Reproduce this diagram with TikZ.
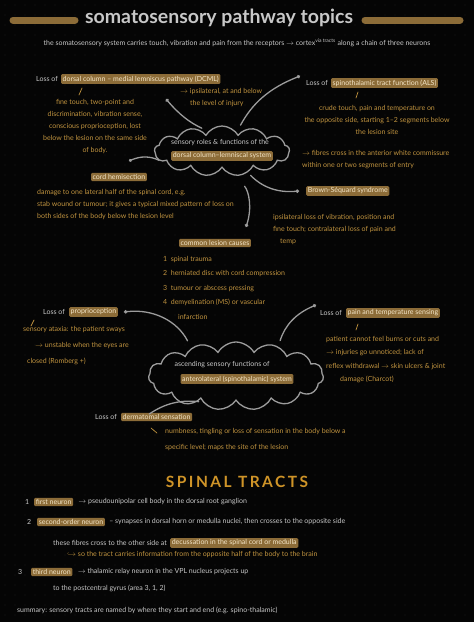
\documentclass[tikz,border=0pt]{standalone}
\usepackage{fontspec}
\setmainfont{Lato}
\usetikzlibrary{shapes.symbols,arrows.meta}
\definecolor{board}{HTML}{050505}
\definecolor{dotgrey}{HTML}{1E1E1E}
\definecolor{chalk}{HTML}{C8C8C8}
\definecolor{linkgrey}{HTML}{9C9C9C}
\definecolor{gold}{HTML}{C0933F}
\definecolor{hlgold}{HTML}{8C6C38}
\definecolor{hltext}{HTML}{F2E4C6}
\definecolor{headgold}{HTML}{CF9428}

\begin{document}
\begin{tikzpicture}[x=1pt,y=-1pt,
  goldtxt/.style={text=gold, font=\fontsize{7}{12}\selectfont, inner sep=0pt},
  chalktxt/.style={text=chalk, font=\fontsize{7}{12}\selectfont, inner sep=0pt},
  hl/.style={fill=hlgold, text=hltext, font=\fontsize{7}{8}\selectfont, inner sep=1.6pt, rounded corners=1.2pt},
  link/.style={draw=linkgrey, line width=1.3pt, line cap=round},
  tick/.style={draw=gold, line width=0.7pt, line cap=round},
  thought/.style={cloud, cloud puffs=13, cloud puff arc=120, cloud ignores aspect, draw=linkgrey, line width=1.3pt}]

\fill[board] (0,0) rectangle (474,622);
\useasboundingbox (0,0) rectangle (474,622);
\foreach \i in {5,15,...,475}
  \foreach \j in {5,15,...,620}
    \fill[dotgrey] (\i,\j) circle (0.55);

% title
\draw[hlgold, line width=7pt, line cap=round] (13,20) -- (75,20);
\draw[hlgold, line width=7pt, line cap=round] (365,20) -- (460,20);
\node[text=chalk, font=\fontsize{19.5}{19.5}\selectfont\bfseries] (title) at (219,18) {somatosensory pathway topics};
\node[chalktxt, font=\fontsize{7}{8}\selectfont] (sub) at (237,43) {the somatosensory system carries touch, vibration and pain from the receptors $\rightarrow$ cortex\textsuperscript{via tracts} along a chain of three neurons};

% upper left
\node[chalktxt, anchor=west] (lossA) at (36,79) {Loss of};
\node[hl, anchor=west] (hlA) at ([xshift=3pt]lossA.east) {dorsal column -- medial lemniscus pathway (DCML)};
\node[goldtxt, align=center] (txtA) at (95,127) {fine touch, two-point and\\discrimination, vibration sense,\\conscious proprioception, lost\\below the lesion on the same side\\of body.};
\draw[tick] (82,88) -- (79,95);

\node[goldtxt, anchor=west, align=left] (txtB) at (180,98) {$\rightarrow$ ipsilateral, at and below\\\hspace{10pt}the level of injury};

% first cloud
\node[thought, minimum width=135pt, minimum height=50pt] (cloudA) at (222,151) {};
\node[chalktxt] (cloudAtop) at (220,143) {sensory roles \& functions of the};
\node[hl] (cloudAhl) at (222,156) {dorsal column--lemniscal system};

% upper right
\node[chalktxt, anchor=west] (lossC) at (306,83) {Loss of};
\node[hl, anchor=west] (hlC) at ([xshift=3pt]lossC.east) {spinothalamic tract function (ALS)};
\draw[tick] (358,92) -- (356,98);
\node[goldtxt, align=center] (txtC) at (377,120) {crude touch, pain and temperature on\\the opposite side, starting 1--2 segments below\\the lesion site};
\node[goldtxt, anchor=north west, align=left] (txtC2) at (302,150) {$\rightarrow$ fibres cross in the anterior white commissure\\within one or two segments of entry};

% middle left
\node[hl] (hlD) at (119,177) {cord hemisection};
\node[goldtxt, anchor=north west, align=left] (txtD) at (37,189) {damage to one lateral half of the spinal cord, e.g.\\stab wound or tumour; it gives a typical mixed pattern of loss on\\both sides of the body below the lesion level};

% middle right
\node[hl, anchor=west] (hlE) at (306,191) {Brown-Séquard syndrome};
\node[goldtxt, anchor=north west, align=left] (txtE) at (273,214) {ipsilateral loss of vibration, position and\\fine touch; contralateral loss of pain and\\\hspace{7pt}temp};

% list
\node[hl] (hlF) at (215,243) {common lesion causes};
\node[goldtxt, anchor=north west, align=left, font=\fontsize{7}{14.5}\selectfont] (listF) at (163,256) {1\ \ spinal trauma\\2\ \ herniated disc with cord compression\\3\ \ tumour or abscess pressing\\4\ \ demyelination (MS) or vascular\\\hspace{15pt}infarction};

% left middle
\node[chalktxt, anchor=west] (lossG) at (43,312) {Loss of};
\node[hl, anchor=west] (hlG) at ([xshift=4pt]lossG.east) {proprioception};
\draw[tick] (34,320) -- (31,326);
\node[goldtxt, anchor=north west, align=left, font=\fontsize{7}{16}\selectfont] (txtG) at (23,326) {sensory ataxia: the patient sways\\\hspace{12pt}$\rightarrow$ unstable when the eyes are\\\hspace{4pt}closed (Romberg +)};

% right middle
\node[chalktxt, anchor=west] (lossH) at (320,313) {Loss of};
\node[hl, anchor=west] (hlH) at ([xshift=4pt]lossH.east) {pain and temperature sensing};
\draw[tick] (358,324) -- (356,330);
\node[goldtxt, anchor=north west, align=left, font=\fontsize{7}{13.5}\selectfont] (txtH) at (326,336) {patient cannot feel burns or cuts and\\$\rightarrow$ injuries go unnoticed; lack of\\reflex withdrawal $\rightarrow$ skin ulcers \& joint\\\hspace{14pt}damage (Charcot)};

% second cloud
\node[thought, cloud puffs=15, minimum width=175pt, minimum height=68pt] (cloudB) at (236,376) {};
\node[chalktxt] (cloudBtop) at (222,365) {ascending sensory functions of};
\node[hl] (cloudBhl) at (237,379) {anterolateral (spinothalamic) system};

% lower left
\node[chalktxt, anchor=west] (lossI) at (95,417) {Loss of};
\node[hl, anchor=west] (hlI) at ([xshift=4pt]lossI.east) {dermatomal sensation};
\draw[tick] (151,428) -- (157,433);
\node[goldtxt, anchor=north west, align=left, font=\fontsize{7}{16}\selectfont] (txtI) at (165,428) {numbness, tingling or loss of sensation in the body below a\\specific level; maps the site of the lesion};

% links
\coordinate (endAB) at (166,99);
\coordinate (endAA) at (129,161);
\coordinate (endAF) at (246,227);
\draw[link, {Circle[length=3.4pt]}-, shorten >=7pt] (endAB) to[bend right=12] (cloudA.125);
\draw[link, {Circle[length=3pt]}-, shorten >=3pt] (endAA) to[bend left=25] (cloudA.190);
\draw[link, -{Circle[length=3.4pt]}, shorten <=8pt] (cloudA.52) to[bend left=20] ([xshift=-6pt,yshift=7pt]lossC.west);
\draw[link, -{Circle[length=3.4pt]}, shorten <=4pt] (cloudA.-40) to[bend right=25] ([xshift=-7pt]hlE.west);
\draw[link, -{Circle[length=3.4pt]}, shorten <=14pt] (cloudA.-62) to[bend left=30] (endAF);
\draw[link, {Circle[length=3.4pt]}-, shorten >=8pt] ([xshift=6pt]hlG.east) to[bend left=35] (cloudB.148);
\draw[link, {Circle[length=3.4pt]}-, shorten >=6pt] ([xshift=-4pt,yshift=8pt]lossH.west) to[bend right=25] (cloudB.35);
\draw[link, shorten <=4pt, shorten >=4pt] (cloudB.218) to[bend right=20] ([xshift=40pt,yshift=-2pt]lossI.north);

% spinal tracts
\node[text=headgold, font=\fontsize{15.5}{15.5}\selectfont\bfseries\addfontfeatures{LetterSpace=16}] (head) at (237,482) {SPINAL TRACTS};

\node[chalktxt, anchor=west] (n1) at (25,502) {1};
\node[hl, anchor=west] (hl1) at (34,502) {first neuron};
\node[chalktxt, anchor=west] (t1) at ([xshift=5pt]hl1.east) {$\rightarrow$ pseudounipolar cell body in the dorsal root ganglion};

\node[chalktxt, anchor=west] (n2) at (27,522) {2};
\node[hl, anchor=west] (hl2) at (37,522) {second-order neuron};
\node[chalktxt, anchor=west] (t2) at ([xshift=4pt]hl2.east) {-- synapses in dorsal horn or medulla nuclei, then crosses to the opposite side};

\node[chalktxt, anchor=west] (t2b) at (53,543) {these fibres cross to the other side at};
\node[hl, anchor=west] (hl2b) at ([xshift=3pt]t2b.east) {decussation in the spinal cord or medulla};
\node[goldtxt, anchor=west] (t2c) at (67,555) {$\hookrightarrow$ so the tract carries information from the opposite half of the body to the brain};

\node[chalktxt, anchor=west] (n3) at (18,572) {3};
\node[hl, anchor=west] (hl3) at (31,572) {third neuron};
\node[chalktxt, anchor=west] (t3) at ([xshift=5pt]hl3.east) {$\rightarrow$ thalamic relay neuron in the VPL nucleus projects up};
\node[chalktxt, anchor=west] (t3b) at (53,588) {to the postcentral gyrus (area 3, 1, 2)};

\node[chalktxt, anchor=west] (summary) at (17,610) {summary: sensory tracts are named by where they start and end (e.g. spino-thalamic)};
\end{tikzpicture}
\end{document}
